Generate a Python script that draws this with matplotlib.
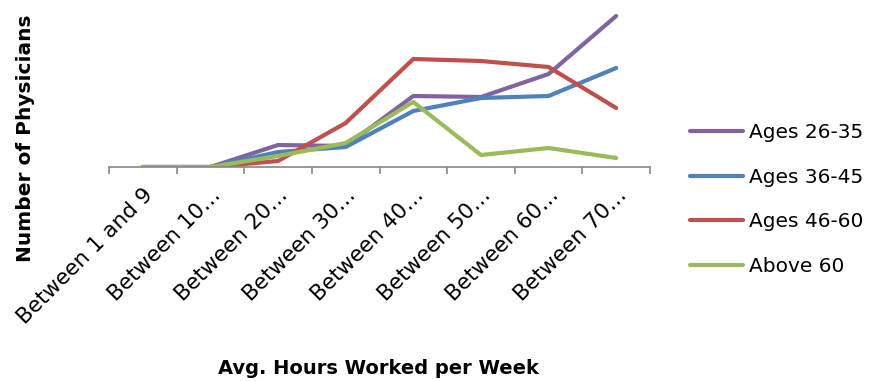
import matplotlib
matplotlib.use("Agg")
import matplotlib.pyplot as plt
import numpy as np

categories = ["Between 1 and 9", "Between 10\u2026", "Between 20\u2026", "Between 30\u2026",
              "Between 40\u2026", "Between 50\u2026", "Between 60\u2026", "Between 70\u2026"]
series_names = ["Ages 26-35", "Ages 36-45", "Ages 46-60", "Above 60"]
ages_26_35 = [0, 0, 22, 21, 71, 70, 93, 151]
ages_36_45 = [0, 0, 15, 20, 56, 69, 71, 99]
ages_46_60 = [0, 0, 6, 44, 108, 106, 100, 59]
above_60 = [0, 0, 11, 24, 65, 12, 19, 9]
colors = ["#8064A2", "#4F81BD", "#C0504D", "#9BBB59"]

plt.rcParams['font.family'] = ['DejaVu Sans']

fig = plt.figure(figsize=(8.77, 3.81), dpi=100)
ax = fig.add_axes([109/877, 1 - 167/381, (650 - 109)/877, 167/381])

x = np.arange(len(categories))
for vals, name, c in zip([ages_26_35, ages_36_45, ages_46_60, above_60], series_names, colors):
    ax.plot(x, vals, color=c, lw=3, label=name, solid_capstyle='round', solid_joinstyle='round')

ax.set_xlim(-0.5, len(categories) - 0.5)
ax.set_ylim(0, 167)
for s in ['top', 'right', 'left']:
    ax.spines[s].set_visible(False)
ax.spines['bottom'].set_color('#868686')
ax.spines['bottom'].set_linewidth(1.2)
ax.set_yticks([])

# boundaries get the tick marks, centers get the labels
ax.set_xticks(np.arange(-0.5, len(categories), 1.0))
ax.set_xticklabels([])
ax.tick_params(axis='x', which='major', length=5, width=1.2, color='#868686')
ax.set_xticks(x, minor=True)
ax.set_xticklabels(categories, minor=True, rotation=45, ha='right',
                   rotation_mode='anchor', fontsize=15.5)
ax.tick_params(axis='x', which='minor', length=0, pad=13)

fig.text(0.029, 0.638, "Number of Physicians", rotation=90, fontsize=14.5, fontweight='bold',
         ha='center', va='center')
fig.text(0.432, 0.034, "Avg. Hours Worked per Week", fontsize=14, fontweight='bold',
         ha='center', va='center')

fig.legend(loc='upper left', bbox_to_anchor=(0.787, 0.677), frameon=False, fontsize=14.5,
           borderpad=0, borderaxespad=0,
           handlelength=2.6, handletextpad=0.3, labelspacing=1.27)

fig.savefig("out.png", dpi=100)
